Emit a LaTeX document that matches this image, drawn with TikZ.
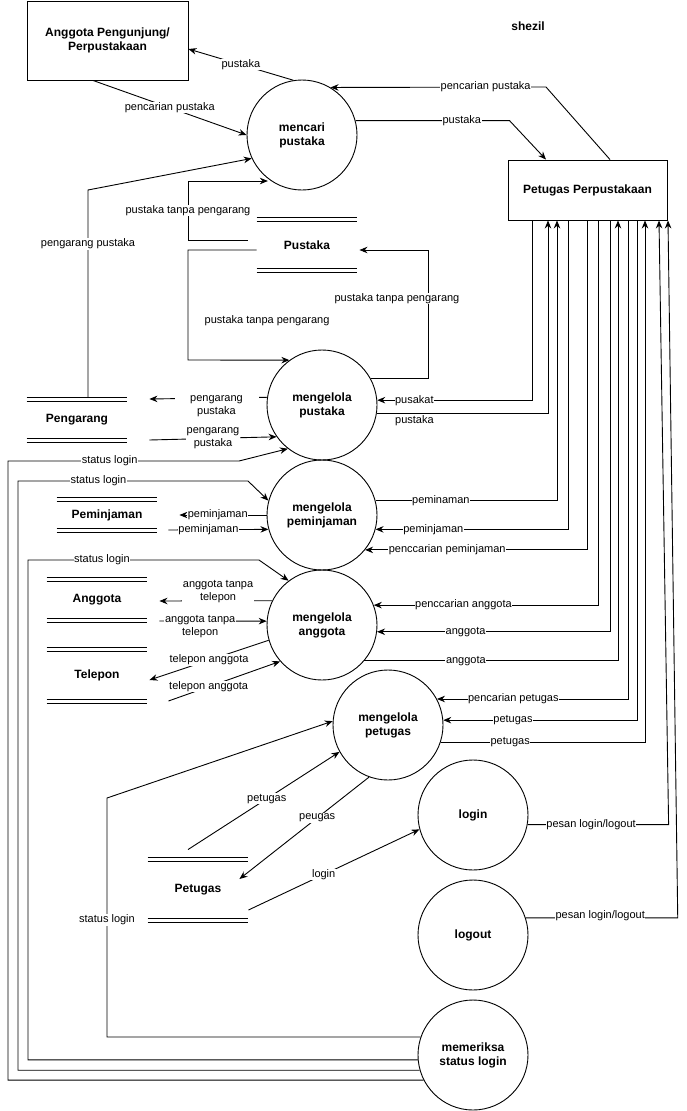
\documentclass[tikz,border=0pt]{standalone}
\usepackage{fontspec}
\setmainfont{Liberation Sans}
\usetikzlibrary{arrows.meta}
\newcommand\dstore[1]{%
  \draw (#1.north west) -- (#1.north east)
        ([yshift=-4pt]#1.north west) -- ([yshift=-4pt]#1.north east)
        (#1.south west) -- (#1.south east)
        ([yshift=4pt]#1.south west) -- ([yshift=4pt]#1.south east);}
\begin{document}
\begin{tikzpicture}[x=1pt,y=-1pt,line width=0.9pt,
  arr/.style={draw,-{Stealth[length=8pt,width=6.5pt]}},
  lbl/.style={fill=white,inner sep=0.6pt,font=\fontsize{11}{13}\selectfont,align=center},
  lblp/.style={inner sep=0.6pt,font=\fontsize{11}{13}\selectfont,align=center},
  proc/.style={circle,draw,minimum size=110pt,inner sep=0pt,font=\fontsize{12}{14}\selectfont\bfseries,align=center},
  ent/.style={rectangle,draw,inner sep=0pt,font=\fontsize{12}{14}\selectfont\bfseries,align=center},
  store/.style={inner sep=0pt,minimum width=100pt,font=\fontsize{12}{14}\selectfont\bfseries}]
\useasboundingbox (0,0) rectangle (687,1111);

% external entities
\node[ent,minimum width=161pt,minimum height=79pt] (box1) at (107.5,40.5) {Anggota Pengunjung/\\Perpustakaan};
\node[ent,minimum width=159pt,minimum height=60pt] (pp) at (587.5,190) {Petugas Perpustakaan};
\node[font=\fontsize{12}{14}\selectfont\bfseries] (title) at (528,26) {shezil};

% processes
\node[proc] (mp) at (302,135) {mencari\\pustaka};
\node[proc] (kp) at (322,405) {mengelola\\pustaka};
\node[proc] (kpm) at (322,515) {mengelola\\peminjaman};
\node[proc] (ka) at (322,625) {mengelola\\anggota};
\node[proc] (kpt) at (388,725) {mengelola\\petugas};
\node[proc] (lgi) at (473,815) {login};
\node[proc] (lgo) at (473,935) {logout};
\node[proc] (ms) at (473,1055) {memeriksa\\status login};

% data stores
\node[store,minimum height=54pt] (ps) at (307,245) {Pustaka};
\node[store,minimum height=44pt] (pg) at (77,420) {Pengarang};
\node[store,minimum height=34pt] (pm) at (107,515) {Peminjaman};
\node[store,minimum height=44pt] (an) at (97,600) {Anggota};
\node[store,minimum height=55pt] (tp) at (97,675.5) {Telepon};
\node[store,minimum height=64pt] (pts) at (198,890) {Petugas};
\dstore{ps}\dstore{pg}\dstore{pm}\dstore{an}\dstore{tp}\dstore{pts}

% flows around mencari pustaka
\draw[arr] (mp.99) -- node[lbl]{pustaka} (box1.-6);
\draw[arr] (box1.-110) -- node[lbl]{pencarian pustaka} (mp.west);
\draw[arr] ([xshift=22.5pt]pp.north) -- (546,87) -- node[lbl,pos=0.28]{pencarian pustaka} (mp.59);
\draw[arr] (mp.15) -- node[lbl,pos=0.69]{pustaka} ++(154,0) -- ([xshift=-41.5pt]pp.north);
\draw[arr] ([xshift=11pt]pg.north) -- node[lbl,pos=0.74]{pengarang pustaka} (88,190) -- (mp.205);
\draw[arr] ([xshift=-9pt,yshift=5pt]ps.west) -- (188,240) -- node[lbl]{pustaka tanpa pengarang} (188,181) -- (mp.232 |- 0,181);

% mengelola pustaka
\draw[arr] ([yshift=-5pt]ps.west) -- (188,250) -- (188,360) -- node[lbl,pos=0.78,yshift=39pt]{pustaka tanpa pengarang} (kp.126);
\draw[arr] (kp.29) -| node[lbl,pos=0.81,xshift=-31pt]{pustaka tanpa pengarang} (428,250) -- ([xshift=2pt,yshift=-5pt]ps.east);
\draw[arr] (kp.172) -- node[lbl,pos=0.43,yshift=-8pt,minimum width=84pt]{pengarang\\pustaka} ([xshift=22pt,yshift=21pt]pg.east);
\draw[arr] ([xshift=22pt,yshift=-20pt]pg.east) -- node[lbl]{pengarang\\pustaka} (kp.215);
\draw[arr] ([xshift=-55.5pt]pp.south) |- node[lbl,pos=0.88]{pusakat} (kp.5);
\draw[arr] (kp.-9) -| node[lblp,pos=0.11,yshift=-7pt]{pustaka} ([xshift=-39.5pt]pp.south);

% status login
\draw[arr] (ms.207) -| (8,461) -- node[lbl,pos=0.44]{status login} (239,461) -- (kp.232);
\draw[arr] (ms.196) -| (18,481) -- node[lbl,pos=0.35]{status login} (248,481) -- (kpm.165);
\draw[arr] (ms.185) -| (28,560) -- node[lbl,pos=0.32]{status login} (259,560) -- (ka.127);
\draw[arr] (ms.161) -| node[lbl,pos=0.745]{status login} (107,798) -- (kpt.176);

% mengelola peminjaman
\draw[arr] (kpm.west) -- node[lbl,pos=0.56]{peminjaman} ([xshift=22pt]pm.east);
\draw[arr] ([xshift=11pt,yshift=-15pt]pm.east) -- node[lbl,pos=0.4]{peminjaman} (kpm.195);
\draw[arr] (kpm.15) -| node[lbl,pos=0.18]{peminaman} ([xshift=-30.5pt]pp.south);
\draw[arr] ([xshift=-19.5pt]pp.south) |- node[lbl,pos=0.85]{peminjaman} (kpm.-15);
\draw[arr] ([xshift=-0.5pt]pp.south) |- node[lbl,pos=0.815]{penccarian peminjaman} (kpm.-39);

% mengelola anggota
\draw[arr] (ka.154) -- node[lbl,pos=0.48,yshift=9pt]{anggota tanpa\\telepon} ([xshift=12pt,yshift=-1pt]an.east);
\draw[arr] ([xshift=12pt,yshift=-21pt]an.east) -- node[lbl,pos=0.38,yshift=-6pt]{anggota tanpa\\telepon} (ka.176);
\draw[arr] (ka.196) -- node[lbl]{telepon anggota} ([xshift=2pt,yshift=-4.5pt]tp.east);
\draw[arr] ([xshift=21pt,yshift=-25.5pt]tp.east) -- node[lbl,pos=0.36]{telepon anggota} (ka.221);
\draw[arr] ([xshift=10.5pt]pp.south) |- node[lbl,pos=0.8]{penccarian anggota} (ka.21);
\draw[arr] ([xshift=22.5pt]pp.south) |- node[lbl,pos=0.81]{anggota} (ka.-7);
\draw[arr] (ka.-40) -| node[lbl,pos=0.2]{anggota} ([xshift=30.5pt]pp.south);

% mengelola petugas
\draw[arr] ([xshift=40.5pt]pp.south) |- node[lbl,pos=0.8]{pencarian petugas} (kpt.28);
\draw[arr] ([xshift=49.5pt]pp.south) |- node[lbl,pos=0.82]{petugas} (kpt.5);
\draw[arr] (kpt.-18) -| node[lbl,pos=0.17]{petugas} ([xshift=57.5pt]pp.south);
\draw[arr] ([xshift=-10pt,yshift=8pt]pts.north) -- node[lbl,pos=0.52]{petugas} (kpt.209);
\draw[arr] (kpt.-110) -- node[lbl,pos=0.4]{peugas} ([xshift=-9pt,yshift=11pt]pts.east);

% login / logout
\draw[arr] ([yshift=-20pt]pts.east) -- node[lbl,pos=0.44]{login} (lgi.195);
\draw[arr] (lgi.-10) -- node[lbl,pos=0.45]{pesan login/logout} ++(141,0) -- ([xshift=71.5pt]pp.south);
\draw[arr] (lgo.18) -- node[lbl,pos=0.49,yshift=2pt]{pesan login/logout} ++(152,0) -- ([xshift=80.5pt]pp.south);
\end{tikzpicture}
\end{document}
